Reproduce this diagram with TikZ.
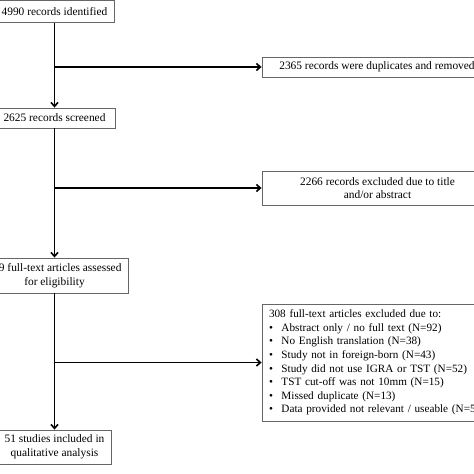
\documentclass[tikz,border=0pt]{standalone}
\usepackage{fontspec}
\setmainfont{Liberation Serif}
\usetikzlibrary{arrows.meta}
\begin{document}
\begin{tikzpicture}[x=1pt,y=-1pt,
  box/.style={draw=black!60,line width=0.8pt,inner sep=0pt,align=center,font=\fontsize{11.4}{13.6}\selectfont},
  listbox/.style={draw=black!60,line width=0.8pt,inner xsep=7pt,inner ysep=0pt,align=left,text width=220pt,font=\fontsize{11.2}{13.6}\selectfont},
  flow/.style={line width=1.6pt,-{Straight Barb[length=4pt,width=7pt]}}]
\useasboundingbox (0,0) rectangle (474,474);
\clip (0,0) rectangle (474,474);
% main column
\node[box,minimum width=119pt,minimum height=22pt] (id) at (54.5,11.5) {4990 records identified};
\node[box,minimum width=121pt,minimum height=20pt] (scr) at (54.5,118) {2625 records screened};
\node[box,minimum width=147pt,minimum height=35pt] (elig) at (54.5,275.5) {\phantom{35}9 full-text articles assessed\\for eligibility};
\node[box,minimum width=113pt,minimum height=34pt] (inc) at (54.5,447) {51 studies included in\\qualitative analysis};
% exclusion boxes
\node[box,minimum width=230pt,minimum height=20pt] (dup) at (377,67) {2365 records were duplicates and removed};
\node[box,minimum width=231pt,minimum height=34pt] (excl) at (377.5,188) {2266 records excluded due to title\\and/or abstract};
\node[listbox,minimum height=117pt] (ft) at (379,362.5) {308 full-text articles excluded due to:\\
\makebox[12.5pt][l]{•}Abstract only / no full text (N=92)\\
\makebox[12.5pt][l]{•}No English translation (N=38)\\
\makebox[12.5pt][l]{•}Study not in foreign-born (N=43)\\
\makebox[12.5pt][l]{•}Study did not use IGRA or TST (N=52)\\
\makebox[12.5pt][l]{•}TST cut-off was not 10mm (N=15)\\
\makebox[12.5pt][l]{•}Missed duplicate (N=13)\\
\makebox[12.5pt][l]{•}Data provided not relevant / useable (N=5};
% junctions
\coordinate (j1) at (id.south |- dup.west);
\coordinate (j2) at (scr.south |- excl.west);
\coordinate (j3) at (elig.south |- ft.west);
% connectors
\draw[flow] (id.south) -- (scr.north);
\draw[flow] (scr.south) -- (elig.north);
\draw[flow] (elig.south) -- (inc.north);
\draw[flow] (j1) -- (dup.west);
\draw[flow] (j2) -- (excl.west);
\draw[flow] (j3) -- (ft.west);
\end{tikzpicture}
\end{document}
